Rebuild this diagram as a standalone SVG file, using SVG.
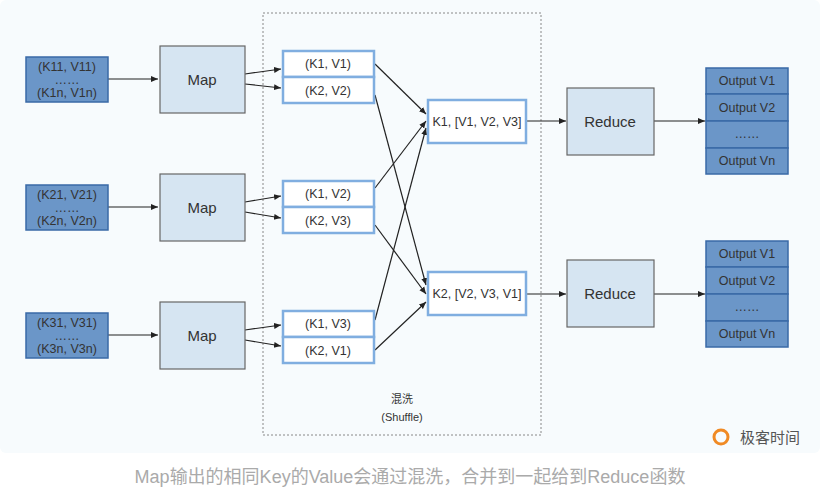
<svg xmlns="http://www.w3.org/2000/svg" width="820" height="492" viewBox="0 0 820 492">
<defs>
<marker id="ah" markerWidth="8" markerHeight="8" refX="7" refY="4" orient="auto" markerUnits="userSpaceOnUse"><path d="M0,1 L7,4 L0,7 Z" fill="#222"/></marker>
<style>
text{font-family:"Liberation Sans","Noto Sans CJK SC",sans-serif;fill:#333;text-anchor:middle}
.in{fill:#6b96c8;stroke:#3a6aa6;stroke-width:1.5}
.mp{fill:#d6e5f2;stroke:#666;stroke-width:1.2}
.pr{fill:#fff;stroke:#80aee0;stroke-width:2.5}
.c{stroke:#222;stroke-width:1.2;fill:none;marker-end:url(#ah)}
.s{font-size:12.5px}
.m{font-size:15px}
</style>
</defs>
<rect x="0" y="0" width="820" height="453" rx="6" fill="#f7fbfd"/>
<rect x="263" y="13" width="278" height="422" fill="none" stroke="#888" stroke-dasharray="2,2"/>
<text x="402" y="403" style="font-size:11px">混洗</text>
<text x="402" y="421" style="font-size:11px">(Shuffle)</text>
<g id="connectors">
<line class="c" x1="108" y1="79" x2="158" y2="79"/>
<line class="c" x1="108" y1="207" x2="158" y2="207"/>
<line class="c" x1="108" y1="335" x2="158" y2="335"/>
<line class="c" x1="245" y1="74" x2="281" y2="69"/>
<line class="c" x1="245" y1="84" x2="281" y2="88"/>
<line class="c" x1="245" y1="202" x2="281" y2="196"/>
<line class="c" x1="245" y1="212" x2="281" y2="218"/>
<line class="c" x1="245" y1="330" x2="281" y2="325"/>
<line class="c" x1="245" y1="340" x2="281" y2="346"/>
<line class="c" x1="375" y1="64" x2="426" y2="114"/>
<line class="c" x1="375" y1="188" x2="426" y2="121"/>
<line class="c" x1="375" y1="320" x2="426" y2="128"/>
<line class="c" x1="375" y1="95" x2="426" y2="285"/>
<line class="c" x1="375" y1="225" x2="426" y2="294"/>
<line class="c" x1="375" y1="350" x2="426" y2="302"/>
<line class="c" x1="526" y1="121" x2="566" y2="121"/>
<line class="c" x1="526" y1="294" x2="566" y2="294"/>
<line class="c" x1="654" y1="121" x2="705" y2="121"/>
<line class="c" x1="654" y1="294" x2="705" y2="294"/>
</g>
<g id="in1"><rect class="in" x="26" y="57" width="82" height="45"/><text class="s" x="67" y="71">(K11, V11)</text><text class="s" x="67" y="84">……</text><text class="s" x="67" y="97">(K1n, V1n)</text></g>
<g id="in2"><rect class="in" x="26" y="185" width="82" height="45"/><text class="s" x="67" y="199">(K21, V21)</text><text class="s" x="67" y="212">……</text><text class="s" x="67" y="225">(K2n, V2n)</text></g>
<g id="in3"><rect class="in" x="26" y="313" width="82" height="45"/><text class="s" x="67" y="327">(K31, V31)</text><text class="s" x="67" y="340">……</text><text class="s" x="67" y="353">(K3n, V3n)</text></g>
<g id="map1"><rect class="mp" x="160" y="46" width="85" height="67"/><text class="m" x="202" y="85">Map</text></g>
<g id="map2"><rect class="mp" x="160" y="174" width="85" height="67"/><text class="m" x="202" y="213">Map</text></g>
<g id="map3"><rect class="mp" x="160" y="302" width="85" height="67"/><text class="m" x="202" y="341">Map</text></g>
<g id="p1"><rect class="pr" x="283" y="51" width="91" height="26"/><rect class="pr" x="283" y="77" width="91" height="26"/><text class="s" x="328" y="68">(K1, V1)</text><text class="s" x="328" y="95">(K2, V2)</text></g>
<g id="p2"><rect class="pr" x="283" y="181" width="91" height="26"/><rect class="pr" x="283" y="207" width="91" height="26"/><text class="s" x="328" y="198">(K1, V2)</text><text class="s" x="328" y="225">(K2, V3)</text></g>
<g id="p3"><rect class="pr" x="283" y="311" width="91" height="26"/><rect class="pr" x="283" y="337" width="91" height="26"/><text class="s" x="328" y="328">(K1, V3)</text><text class="s" x="328" y="355">(K2, V1)</text></g>
<g id="k1"><rect class="pr" x="428" y="100" width="98" height="43"/><text class="s" x="477" y="126">K1, [V1, V2, V3]</text></g>
<g id="k2"><rect class="pr" x="428" y="272" width="98" height="43"/><text class="s" x="477" y="298">K2, [V2, V3, V1]</text></g>
<g id="r1"><rect class="mp" x="567" y="88" width="87" height="67"/><text class="m" x="610" y="127">Reduce</text></g>
<g id="r2"><rect class="mp" x="567" y="260" width="87" height="67"/><text class="m" x="610" y="299">Reduce</text></g>
<g id="o1"><rect class="in" x="706" y="68" width="82" height="26"/><rect class="in" x="706" y="94" width="82" height="27"/><rect class="in" x="706" y="121" width="82" height="27"/><rect class="in" x="706" y="148" width="82" height="26"/>
<text class="s" x="747" y="85">Output V1</text><text class="s" x="747" y="112">Output V2</text><text class="s" x="747" y="138">……</text><text class="s" x="747" y="165">Output Vn</text></g>
<g id="o2"><rect class="in" x="706" y="241" width="82" height="26"/><rect class="in" x="706" y="267" width="82" height="27"/><rect class="in" x="706" y="294" width="82" height="27"/><rect class="in" x="706" y="321" width="82" height="26"/>
<text class="s" x="747" y="258">Output V1</text><text class="s" x="747" y="285">Output V2</text><text class="s" x="747" y="311">……</text><text class="s" x="747" y="338">Output Vn</text></g>
<g id="logo"><circle cx="721" cy="437" r="7" fill="none" stroke="#f08a24" stroke-width="3"/><text x="770" y="443" style="font-size:15px;fill:#555">极客时间</text></g>
<text x="410" y="483" style="font-size:18px;fill:#aaa">Map输出的相同Key的Value会通过混洗，合并到一起给到Reduce函数</text>
</svg>
